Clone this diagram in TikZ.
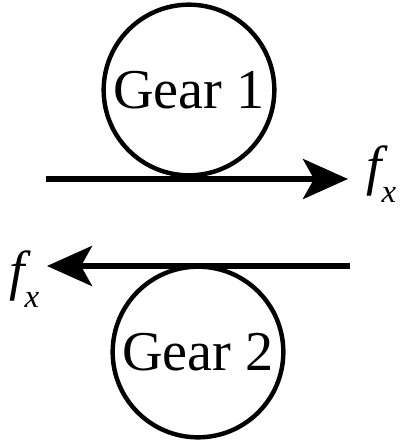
\documentclass[tikz,border=0pt]{standalone}
\usepackage{fontspec}
\setmainfont{Liberation Serif}
\usetikzlibrary{arrows.meta}

\begin{document}
\begin{tikzpicture}[x=0.03cm,y=-0.03cm,
    gear/.style={draw,circle,line width=3.8pt,minimum size=5.12cm,inner sep=0pt,font=\fontsize{48}{56}\selectfont},
    force/.style={line width=4.8pt,-{Stealth[length=1.35cm,width=1.2cm,inset=0.33cm]}},
    flabel/.style={anchor=base west,inner sep=0pt,font=\fontsize{47}{54}\selectfont\itshape}]
    \useasboundingbox (0,0) rectangle (400,441);
    \node[gear] (gear1) at (189,90) {Gear 1};
    \node[gear] (gear2) at (198,352) {Gear 2};
    % forces on the gears
    \coordinate (f1start) at (46,179);
    \coordinate (f1end) at (348,179);
    \coordinate (f2start) at (350,266);
    \coordinate (f2end) at (47,266);
    \draw[force] (f1start) -- (f1end);
    \draw[force] (f2start) -- (f2end);
    \node[flabel] (fx1) at (366,184) {f\raisebox{-16pt}{\fontsize{28}{28}\selectfont x}};
    \node[flabel] (fx2) at (9,289) {f\raisebox{-16pt}{\fontsize{28}{28}\selectfont x}};
\end{tikzpicture}
\end{document}
